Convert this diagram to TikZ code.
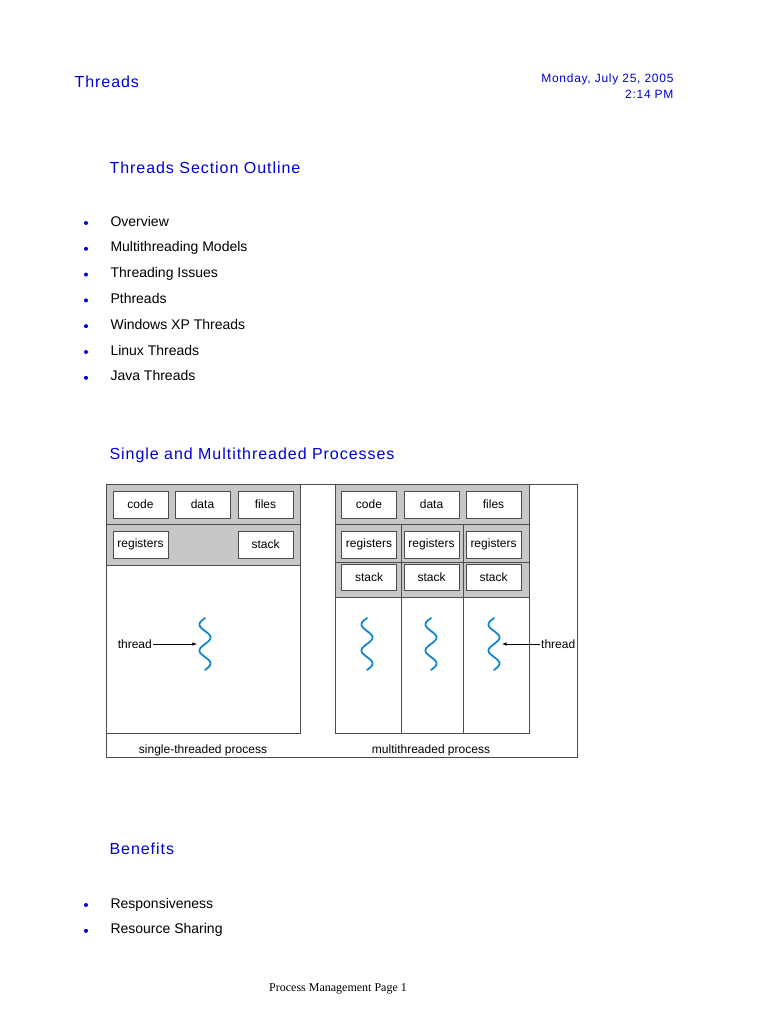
\documentclass[tikz,border=0pt]{standalone}
\usepackage{fontspec}
\setmainfont{Liberation Sans}
\newfontfamily\headf[LetterSpace=6]{Liberation Sans}
\newfontfamily\seriff{Liberation Serif}
\begin{document}
\begin{tikzpicture}[x=1pt,y=-1pt,
  head/.style={anchor=base west,text=blue!85!black,font=\headf\fontsize{16}{18}\selectfont},
  item/.style={anchor=base west,font=\fontsize{14}{16}\selectfont},
  bul/.style={circle,fill=blue!80!black,inner sep=0pt,minimum size=4pt},
  box/.style={draw=black!70,fill=white,line width=0.6pt,minimum width=55pt,minimum height=27pt,inner sep=0pt,font=\fontsize{12}{14}\selectfont},
  band/.style={draw=black!70,fill=black!22,line width=0.7pt},
  small/.style={font=\fontsize{12}{14}\selectfont},
  wave/.style={cyan!70!blue,line width=1.8pt,line cap=round}]
\useasboundingbox (0,0) rectangle (768,1024);
\node[head] (t1) at (71,88) {Threads};
\node[anchor=base east,text=blue!85!black,font=\headf\fontsize{12}{14}\selectfont] (dt) at (677,83) {Monday, July 25, 2005};
\node[anchor=base east,text=blue!85!black,font=\headf\fontsize{12}{14}\selectfont] (tm) at (677,99) {2:14 PM};
\node[head] (h1) at (106,174) {Threads Section Outline};
\foreach \t [count=\i] in {Overview,Multithreading Models,Threading Issues,Pthreads,Windows XP Threads,Linux Threads,Java Threads}{
  \node[bul] (b\i) at (86,{223+(\i-1)*25.8}) {};
  \node[item] (i\i) at (107,{226+(\i-1)*25.8}) {\t};
}
\node[head] (h2) at (106,459) {Single and Multithreaded Processes};
% outer frame
\draw[black!70,line width=0.6pt] (106,484) rectangle (577,757);
% left process
\draw[black!70,fill=white,line width=0.7pt] (106,484) rectangle (300,733);
\draw[band] (106,484) rectangle (300,524);
\draw[band] (106,524) rectangle (300,565);
\node[box] (c1) at (140.5,504.5) {code};
\node[box] (d1) at (202.5,504.5) {data};
\node[box] (f1) at (265.5,504.5) {files};
\node[box] (r1) at (140.5,544.5) {registers};
\node[box] (s1) at (265.5,544.5) {stack};
% right process
\draw[black!70,fill=white,line width=0.7pt] (335,484) rectangle (529,733);
\draw[band] (335,484) rectangle (529,524);
\foreach \x/\xe in {335/401,401/463,463/529}{
  \draw[band] (\x,524) rectangle (\xe,562);
  \draw[band] (\x,562) rectangle (\xe,597);
  \draw[black!70,line width=0.7pt] (\xe,597) -- (\xe,733);
}
\node[box] (c2) at (369,504.5) {code};
\node[box] (d2) at (431.5,504.5) {data};
\node[box] (f2) at (493.5,504.5) {files};
\foreach \x/\n in {369/a,431.5/b,493.5/c}{
  \node[box] (r\n) at (\x,544.5) {registers};
  \node[box,minimum height=26pt] (s\n) at (\x,577) {stack};
}
% waves
\foreach \cx/\n in {205/w1,367/w2,431/w3,494/w4}{
  \draw[wave] plot[domain=0:2,samples=80,smooth] ({\cx-5.5*sin(360*\x)},{618+26*\x}) coordinate (\n);
}
\coordinate (wl) at (197,644);
\coordinate (wr) at (502,644);
\node[small,anchor=east,inner sep=1pt] (th1) at (153,644) {thread};
\draw[-latex,line width=0.6pt] (th1.east) -- (wl);
\node[small,anchor=west,inner sep=1pt] (th2) at (540,644) {thread};
\draw[-latex,line width=0.6pt] (th2.west) -- (wr);
\node[small] (l1) at (203,750) {single-threaded process};
\node[small] (l2) at (431,750) {multithreaded process};
\node[head] (h3) at (106,854) {Benefits};
\foreach \t [count=\i] in {Responsiveness,Resource Sharing}{
  \node[bul] (c\i) at (86,{905+(\i-1)*25.8}) {};
  \node[item] (j\i) at (107,{908+(\i-1)*25.8}) {\t};
}
\node[anchor=base,font=\seriff\fontsize{12}{14}\selectfont] (ft) at (338,991) {Process Management Page 1};
\end{tikzpicture}
\end{document}
